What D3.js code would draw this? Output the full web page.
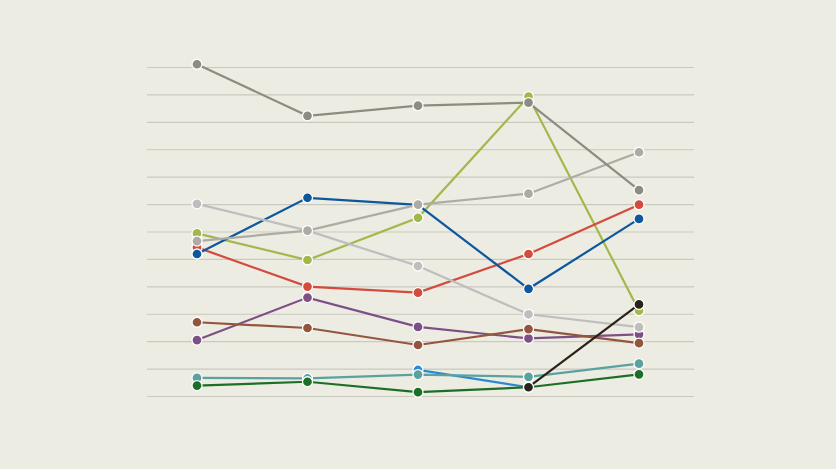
<!DOCTYPE html>
<html>
<head>
<meta charset="utf-8">
<script src="https://cdn.jsdelivr.net/npm/d3@7"></script>
<style>
  html, body { margin: 0; padding: 0; background: #ecece2; }
</style>
</head>
<body>
<script>
var width = 836;
var height = 469;

// five periods, no labels shown on the chart
var periods = ["p1", "p2", "p3", "p4", "p5"];
var gridTicks = [0, 1, 2, 3, 4, 5, 6, 7, 8, 9, 10, 11, 12];

// series values (grid units), drawn bottom to top
var brightBlue = [null, null, 0.95, 0.32, null];
var teal       = [0.66, 0.64, 0.78, 0.70, 1.18];
var darkGreen  = [0.38, 0.52, 0.14, 0.32, 0.79];
var purple     = [2.04, 3.59, 2.52, 2.10, 2.25];
var brown      = [2.69, 2.48, 1.86, 2.44, 1.93];
var lightGreen = [5.93, 4.96, 6.50, 10.92, 3.11];
var red        = [5.42, 3.99, 3.77, 5.18, 6.98];
var blue       = [5.18, 7.23, 6.97, 3.91, 6.46];
var lightGray  = [7.01, 6.03, 4.74, 2.98, 2.51];
var midGray    = [5.65, 6.03, 6.98, 7.38, 8.89];
var darkGray   = [12.10, 10.22, 10.59, 10.70, 7.51];
var black      = [null, null, null, 0.32, 3.34];

var series = [
  { values: brightBlue, color: "#2b88d4" },
  { values: teal,       color: "#5aa2a0" },
  { values: darkGreen,  color: "#1d6e27" },
  { values: purple,     color: "#7e4f87" },
  { values: brown,      color: "#94553f" },
  { values: lightGreen, color: "#a3b84b" },
  { values: red,        color: "#d44a3d" },
  { values: blue,       color: "#0d589d" },
  { values: lightGray,  color: "#bebebe" },
  { values: midGray,    color: "#acaca4" },
  { values: darkGray,   color: "#8c8c81" },
  { values: black,      color: "#2b2119" }
];

var x = d3.scalePoint()
          .domain(periods)
          .range([197, 639]);

var y = d3.scaleLinear()
          .domain([0, 12])
          .range([396, 67]);

var svg = d3.select("body").append("svg")
            .attr("width", width)
            .attr("height", height)
            .style("display", "block");

svg.append("rect")
   .attr("width", width)
   .attr("height", height)
   .attr("fill", "#ecece2");

// horizontal grid from a left axis with full-width ticks
var grid = d3.axisLeft(y)
             .tickValues(gridTicks)
             .tickSize(-547)
             .tickFormat("");

svg.append("g")
   .attr("transform", "translate(147, 0)")
   .call(grid)
   .call(function (g) { g.select(".domain").remove(); })
   .call(function (g) {
       g.selectAll(".tick line")
        .attr("stroke", "#c9c9bf")
        .attr("stroke-width", 1.2);
   });

var line = d3.line()
             .defined(function (d) { return d != null; })
             .x(function (d, i) { return x(periods[i]); })
             .y(function (d) { return y(d); });

series.forEach(function (s) {
    var g = svg.append("g");

    g.append("path")
     .datum(s.values)
     .attr("fill", "none")
     .attr("stroke", s.color)
     .attr("stroke-width", 2.2)
     .attr("d", line);

    g.selectAll("circle")
     .data(s.values.map(function (v, i) { return { v: v, p: periods[i] }; })
                   .filter(function (d) { return d.v != null; }))
     .enter()
       .append("circle")
       .attr("cx", function (d) { return x(d.p); })
       .attr("cy", function (d) { return y(d.v); })
       .attr("r", 5)
       .attr("fill", s.color)
       .attr("stroke", "#ffffff")
       .attr("stroke-width", 1.3);
});
</script>
</body>
</html>
